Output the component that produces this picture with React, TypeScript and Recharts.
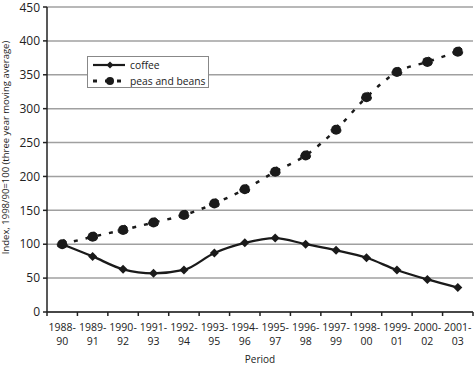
import React from "react";
import { LineChart, Line, XAxis, YAxis, CartesianGrid } from "recharts";

// Periods (three year windows) and index values
const periods = [
  "1988-90", "1989-91", "1990-92", "1991-93", "1992-94", "1993-95", "1994-96",
  "1995-97", "1996-98", "1997-99", "1998-00", "1999-01", "2000-02", "2001-03",
];
const coffee = [100, 82, 63, 57, 62, 87, 102, 109, 100, 91, 80, 62, 48, 36];
const peasAndBeans = [100, 111, 121, 132, 143, 160, 181, 207, 231, 269, 317, 354, 369, 384];
const yTicks = [0, 50, 100, 150, 200, 250, 300, 350, 400, 450];

const W = 474;
const H = 366;
const MARGIN = { top: 7, right: 1, bottom: 12, left: 0 };
const Y_AXIS_W = 47;
const BAND = (W - MARGIN.left - MARGIN.right - Y_AXIS_W) / periods.length;
const FONT = "'Open Sans', sans-serif";
const INK = "#1a1a1a";

// x sits in the middle of each band; tick marks go on the band edges
const data = periods.map((p, i) => ({
  x: i + 0.5,
  period: p,
  coffee: coffee[i],
  peas: peasAndBeans[i],
}));
const xTicks = periods.map((_, i) => i).concat(periods.length);

function PeriodTick(props: any) {
  const { x, y, payload } = props;
  const label = periods[payload.value];
  if (!label) return null;
  const [a, b] = label.split("-");
  const cx = x + BAND / 2;
  return (
    <text x={cx} y={y} textAnchor="middle" fontSize={10.5} fill="#222" fontFamily={FONT}>
      <tspan x={cx} dy={13}>{a}-</tspan>
      <tspan x={cx} dy={14}>{b}</tspan>
    </text>
  );
}

function Diamond(props: any) {
  const { cx, cy, index } = props;
  if (cx == null || cy == null) return null;
  const r = 4.5;
  return (
    <polygon
      key={"d" + index}
      points={`${cx},${cy - r} ${cx + r},${cy} ${cx},${cy + r} ${cx - r},${cy}`}
      fill={INK}
    />
  );
}

function YLabel(props: any) {
  const { viewBox } = props;
  const cy = viewBox.y + viewBox.height / 2 - 12;
  return (
    <text
      x={9}
      y={cy}
      transform={`rotate(-90, 9, ${cy})`}
      textAnchor="middle"
      fontSize={9.5}
      fill="#222"
      fontFamily={FONT}
    >
      Index, 1998/90=100 (three year moving average)
    </text>
  );
}

function LegendBox() {
  return (
    <div
      style={{
        position: "absolute",
        left: 87,
        top: 56,
        width: 122,
        height: 32,
        border: "1px solid #888",
        background: "#fff",
        boxSizing: "border-box",
      }}
    >
      <svg width={120} height={30} style={{ display: "block" }}>
        <line x1={5} y1={8} x2={37} y2={8} stroke={INK} strokeWidth={2.2} />
        <polygon points="22,4.5 25.5,8 22,11.5 18.5,8" fill={INK} />
        <text x={42} y={12} fontSize={10.3} fill="#222" fontFamily={FONT}>coffee</text>
        <line x1={5} y1={24} x2={37} y2={24} stroke={INK} strokeWidth={3} strokeDasharray="4 8" />
        <circle cx={22} cy={24} r={4} fill={INK} />
        <text x={42} y={28} fontSize={10.3} fill="#222" fontFamily={FONT}>peas and beans</text>
      </svg>
    </div>
  );
}

export default function App() {
  return (
    <div style={{ position: "absolute", left: 0, top: 0, width: W, height: H, background: "#fff" }}>
      <LineChart width={W} height={H} data={data} margin={MARGIN}>
        <CartesianGrid vertical={false} stroke="#a0a0a0" strokeWidth={1.5} />
        <XAxis
          dataKey="x"
          type="number"
          domain={[0, periods.length]}
          ticks={xTicks}
          interval={0}
          tick={<PeriodTick />}
          tickSize={4}
          stroke="#222"
          strokeWidth={1.5}
          height={42}
          label={{ value: "Period", position: "insideBottom", offset: -9, fontSize: 10, fill: "#222", fontFamily: FONT }}
        />
        <YAxis
          domain={[0, 450]}
          ticks={yTicks}
          width={Y_AXIS_W}
          tickSize={4}
          tickMargin={3}
          stroke="#222"
          strokeWidth={1.5}
          tick={{ fontSize: 12, fill: "#222", fontFamily: FONT }}
          label={<YLabel />}
        />
        <Line
          type="monotone"
          dataKey="coffee"
          name="coffee"
          stroke={INK}
          strokeWidth={2.3}
          dot={<Diamond />}
          isAnimationActive={false}
        />
        <Line
          type="monotone"
          dataKey="peas"
          name="peas and beans"
          stroke={INK}
          strokeWidth={2.5}
          strokeDasharray="4 8"
          dot={{ r: 5, fill: INK, stroke: INK, strokeWidth: 1 }}
          isAnimationActive={false}
        />
      </LineChart>
      <LegendBox />
    </div>
  );
}
